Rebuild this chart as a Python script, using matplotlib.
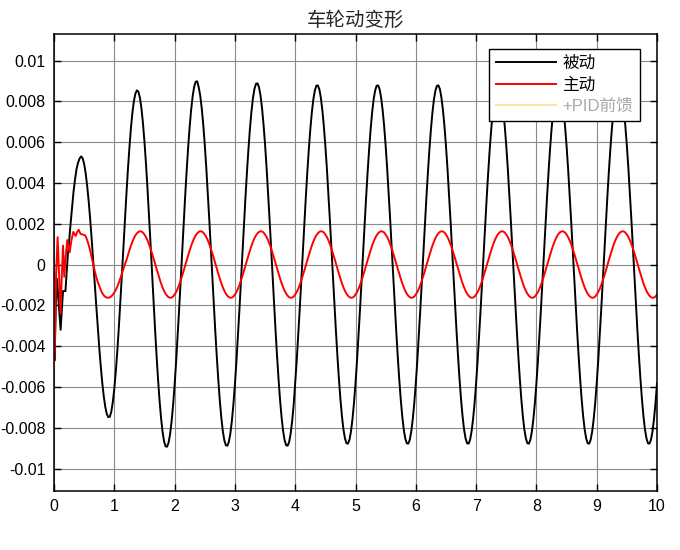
import numpy as np
import matplotlib
matplotlib.use("Agg")
import matplotlib.pyplot as plt

plt.rcParams['font.family'] = ['Liberation Sans', 'Noto Sans CJK SC', 'DejaVu Sans']

title_text = "车轮动变形"
series_names = ["被动", "主动", "+PID前馈"]

x_ticks = [0, 1, 2, 3, 4, 5, 6, 7, 8, 9, 10]
y_ticks = [-0.01, -0.008, -0.006, -0.004, -0.002, 0, 0.002, 0.004, 0.006, 0.008, 0.01]
y_tick_labels = ['-0.01', '-0.008', '-0.006', '-0.004', '-0.002', '0',
                 '0.002', '0.004', '0.006', '0.008', '0.01']

# Passive suspension: start-up samples, then a 0.025 s grid from 0.30 s to 10 s
passive_t_early = [0, 0.01, 0.03, 0.05, 0.08, 0.11, 0.13, 0.15, 0.19, 0.21, 0.23, 0.25, 0.275]
passive_early = [0, -0.0047, -0.0020, -0.0007, -0.0020, -0.0032, -0.0022, -0.0013,
                 -0.0013, -0.0004, 0.0005, 0.0011, 0.0020]
passive_regular = [
    # 0.300 - 0.975
    0.0028, 0.0036, 0.0042, 0.0047, 0.0050, 0.0052, 0.0053,
    0.00521, 0.00493, 0.00448, 0.00386, 0.00311, 0.00222, 0.00125, 0.00020, -0.00088,
    -0.00197, -0.00304, -0.00405, -0.00497, -0.00578, -0.00645, -0.00697, -0.00732, -0.00748,
    -0.00746, -0.00722, -0.00675,
    # 1.000 - 1.975
    -0.00609, -0.00525, -0.00424, -0.00310, -0.00186, -0.00055, 0.00079, 0.00212, 0.00340, 0.00461,
    0.00570, 0.00666, 0.00743, 0.00801, 0.00838, 0.00854, 0.00847, 0.00817, 0.00766, 0.00694,
    0.00603, 0.00496, 0.00375, 0.00244, 0.00107, -0.00035, -0.00176, -0.00312, -0.00441, -0.00560,
    -0.00665, -0.00751, -0.00819, -0.00866, -0.00891, -0.00893, -0.00873, -0.00832, -0.00770, -0.00689,
    # 2.000 - 2.975
    -0.00591, -0.00478, -0.00354, -0.00221, -0.00082, 0.00059, 0.00198, 0.00333, 0.00459, 0.00575,
    0.00676, 0.00760, 0.00826, 0.00872, 0.00896, 0.00898, 0.00869, 0.00828, 0.00766, 0.00686,
    0.00589, 0.00477, 0.00353, 0.00221, 0.00084, -0.00056, -0.00194, -0.00328, -0.00453, -0.00567,
    -0.00668, -0.00751, -0.00817, -0.00862, -0.00886, -0.00888, -0.00869, -0.00828, -0.00766, -0.00686,
    # 3.000 - 3.975
    -0.00589, -0.00477, -0.00353, -0.00221, -0.00084, 0.00056, 0.00194, 0.00328, 0.00453, 0.00567,
    0.00668, 0.00751, 0.00817, 0.00862, 0.00886, 0.00888, 0.00869, 0.00828, 0.00766, 0.00686,
    0.00589, 0.00477, 0.00353, 0.00221, 0.00084, -0.00056, -0.00194, -0.00328, -0.00453, -0.00567,
    -0.00668, -0.00751, -0.00817, -0.00862, -0.00886, -0.00888, -0.00869, -0.00828, -0.00766, -0.00686,
    # 4.000 - 4.975
    -0.00582, -0.00472, -0.00349, -0.00219, -0.00083, 0.00055, 0.00192, 0.00324, 0.00448, 0.00561,
    0.00660, 0.00743, 0.00808, 0.00852, 0.00876, 0.00878, 0.00859, 0.00818, 0.00757, 0.00678,
    0.00582, 0.00472, 0.00349, 0.00219, 0.00083, -0.00055, -0.00192, -0.00324, -0.00448, -0.00561,
    -0.00660, -0.00743, -0.00808, -0.00852, -0.00876, -0.00878, -0.00859, -0.00818, -0.00757, -0.00678,
    # 5.000 - 5.975
    -0.00582, -0.00472, -0.00349, -0.00219, -0.00083, 0.00055, 0.00192, 0.00324, 0.00448, 0.00561,
    0.00660, 0.00743, 0.00808, 0.00852, 0.00876, 0.00878, 0.00859, 0.00818, 0.00757, 0.00678,
    0.00582, 0.00472, 0.00349, 0.00219, 0.00083, -0.00055, -0.00192, -0.00324, -0.00448, -0.00561,
    -0.00660, -0.00743, -0.00808, -0.00852, -0.00876, -0.00878, -0.00859, -0.00818, -0.00757, -0.00678,
    # 6.000 - 6.975
    -0.00582, -0.00472, -0.00349, -0.00219, -0.00083, 0.00055, 0.00192, 0.00324, 0.00448, 0.00561,
    0.00660, 0.00743, 0.00808, 0.00852, 0.00876, 0.00878, 0.00859, 0.00818, 0.00757, 0.00678,
    0.00582, 0.00472, 0.00349, 0.00219, 0.00083, -0.00055, -0.00192, -0.00324, -0.00448, -0.00561,
    -0.00660, -0.00743, -0.00808, -0.00852, -0.00876, -0.00878, -0.00859, -0.00818, -0.00757, -0.00678,
    # 7.000 - 7.975
    -0.00582, -0.00472, -0.00349, -0.00219, -0.00083, 0.00055, 0.00192, 0.00324, 0.00448, 0.00561,
    0.00660, 0.00743, 0.00808, 0.00852, 0.00876, 0.00878, 0.00859, 0.00818, 0.00757, 0.00678,
    0.00582, 0.00472, 0.00349, 0.00219, 0.00083, -0.00055, -0.00192, -0.00324, -0.00448, -0.00561,
    -0.00660, -0.00743, -0.00808, -0.00852, -0.00876, -0.00878, -0.00859, -0.00818, -0.00757, -0.00678,
    # 8.000 - 8.975
    -0.00582, -0.00472, -0.00349, -0.00219, -0.00083, 0.00055, 0.00192, 0.00324, 0.00448, 0.00561,
    0.00660, 0.00743, 0.00808, 0.00852, 0.00876, 0.00878, 0.00859, 0.00818, 0.00757, 0.00678,
    0.00582, 0.00472, 0.00349, 0.00219, 0.00083, -0.00055, -0.00192, -0.00324, -0.00448, -0.00561,
    -0.00660, -0.00743, -0.00808, -0.00852, -0.00876, -0.00878, -0.00859, -0.00818, -0.00757, -0.00678,
    # 9.000 - 9.975
    -0.00582, -0.00472, -0.00349, -0.00219, -0.00083, 0.00055, 0.00192, 0.00324, 0.00448, 0.00561,
    0.00660, 0.00743, 0.00808, 0.00852, 0.00876, 0.00878, 0.00859, 0.00818, 0.00757, 0.00678,
    0.00582, 0.00472, 0.00349, 0.00219, 0.00083, -0.00055, -0.00192, -0.00324, -0.00448, -0.00561,
    -0.00660, -0.00743, -0.00808, -0.00852, -0.00876, -0.00878, -0.00859, -0.00818, -0.00757, -0.00678,
    # 10.000
    -0.00582,
]

# Active suspension: start-up samples, then a 0.025 s grid from 0.55 s to 10 s
active_t_early = [0, 0.01, 0.035, 0.06, 0.085, 0.11, 0.13, 0.15, 0.17, 0.195, 0.22,
                  0.24, 0.26, 0.29, 0.32, 0.34, 0.36, 0.385, 0.41, 0.44, 0.48, 0.52]
active_early = [0, -0.0047, -0.0005, 0.00134, -0.0006, -0.0024, -0.0005, 0.00093, -0.0006,
                0.0004, 0.0012, 0.0009, 0.0006, 0.0012, 0.0016, 0.0015, 0.0014, 0.0016,
                0.0017, 0.0015, 0.00147, 0.00142]
active_regular = [
    # 0.550 - 0.975
    0.0012, 0.00097, 0.00068, 0.00036, 0.00002, -0.00031, -0.0006, -0.00085, -0.00105, -0.00124,
    -0.0014, -0.00151, -0.00158, -0.00162, -0.00163, -0.00161, -0.00156, -0.00148,
    # 1.000 - 1.975
    -0.00137, -0.00124, -0.00108, -0.00089, -0.00068, -0.00045, -0.00022, 0.00000, 0.00020, 0.00045,
    0.00069, 0.00092, 0.00112, 0.00129, 0.00143, 0.00153, 0.00160, 0.00163, 0.00162, 0.00157,
    0.00147, 0.00135, 0.00119, 0.00100, 0.00079, 0.00055, 0.00031, 0.00005, -0.00020, -0.00045,
    -0.00069, -0.00092, -0.00112, -0.00129, -0.00143, -0.00153, -0.00160, -0.00163, -0.00162, -0.00157,
    # 2.000 - 2.975
    -0.00147, -0.00135, -0.00119, -0.00100, -0.00079, -0.00055, -0.00031, -0.00005, 0.00020, 0.00045,
    0.00069, 0.00092, 0.00112, 0.00129, 0.00143, 0.00153, 0.00160, 0.00163, 0.00162, 0.00157,
    0.00147, 0.00135, 0.00119, 0.00100, 0.00079, 0.00055, 0.00031, 0.00005, -0.00020, -0.00045,
    -0.00069, -0.00092, -0.00112, -0.00129, -0.00143, -0.00153, -0.00160, -0.00163, -0.00162, -0.00157,
    # 3.000 - 3.975
    -0.00147, -0.00135, -0.00119, -0.00100, -0.00079, -0.00055, -0.00031, -0.00005, 0.00020, 0.00045,
    0.00069, 0.00092, 0.00112, 0.00129, 0.00143, 0.00153, 0.00160, 0.00163, 0.00162, 0.00157,
    0.00147, 0.00135, 0.00119, 0.00100, 0.00079, 0.00055, 0.00031, 0.00005, -0.00020, -0.00045,
    -0.00069, -0.00092, -0.00112, -0.00129, -0.00143, -0.00153, -0.00160, -0.00163, -0.00162, -0.00157,
    # 4.000 - 4.975
    -0.00147, -0.00135, -0.00119, -0.00100, -0.00079, -0.00055, -0.00031, -0.00005, 0.00020, 0.00045,
    0.00069, 0.00092, 0.00112, 0.00129, 0.00143, 0.00153, 0.00160, 0.00163, 0.00162, 0.00157,
    0.00147, 0.00135, 0.00119, 0.00100, 0.00079, 0.00055, 0.00031, 0.00005, -0.00020, -0.00045,
    -0.00069, -0.00092, -0.00112, -0.00129, -0.00143, -0.00153, -0.00160, -0.00163, -0.00162, -0.00157,
    # 5.000 - 5.975
    -0.00147, -0.00135, -0.00119, -0.00100, -0.00079, -0.00055, -0.00031, -0.00005, 0.00020, 0.00045,
    0.00069, 0.00092, 0.00112, 0.00129, 0.00143, 0.00153, 0.00160, 0.00163, 0.00162, 0.00157,
    0.00147, 0.00135, 0.00119, 0.00100, 0.00079, 0.00055, 0.00031, 0.00005, -0.00020, -0.00045,
    -0.00069, -0.00092, -0.00112, -0.00129, -0.00143, -0.00153, -0.00160, -0.00163, -0.00162, -0.00157,
    # 6.000 - 6.975
    -0.00147, -0.00135, -0.00119, -0.00100, -0.00079, -0.00055, -0.00031, -0.00005, 0.00020, 0.00045,
    0.00069, 0.00092, 0.00112, 0.00129, 0.00143, 0.00153, 0.00160, 0.00163, 0.00162, 0.00157,
    0.00147, 0.00135, 0.00119, 0.00100, 0.00079, 0.00055, 0.00031, 0.00005, -0.00020, -0.00045,
    -0.00069, -0.00092, -0.00112, -0.00129, -0.00143, -0.00153, -0.00160, -0.00163, -0.00162, -0.00157,
    # 7.000 - 7.975
    -0.00147, -0.00135, -0.00119, -0.00100, -0.00079, -0.00055, -0.00031, -0.00005, 0.00020, 0.00045,
    0.00069, 0.00092, 0.00112, 0.00129, 0.00143, 0.00153, 0.00160, 0.00163, 0.00162, 0.00157,
    0.00147, 0.00135, 0.00119, 0.00100, 0.00079, 0.00055, 0.00031, 0.00005, -0.00020, -0.00045,
    -0.00069, -0.00092, -0.00112, -0.00129, -0.00143, -0.00153, -0.00160, -0.00163, -0.00162, -0.00157,
    # 8.000 - 8.975
    -0.00147, -0.00135, -0.00119, -0.00100, -0.00079, -0.00055, -0.00031, -0.00005, 0.00020, 0.00045,
    0.00069, 0.00092, 0.00112, 0.00129, 0.00143, 0.00153, 0.00160, 0.00163, 0.00162, 0.00157,
    0.00147, 0.00135, 0.00119, 0.00100, 0.00079, 0.00055, 0.00031, 0.00005, -0.00020, -0.00045,
    -0.00069, -0.00092, -0.00112, -0.00129, -0.00143, -0.00153, -0.00160, -0.00163, -0.00162, -0.00157,
    # 9.000 - 9.975
    -0.00147, -0.00135, -0.00119, -0.00100, -0.00079, -0.00055, -0.00031, -0.00005, 0.00020, 0.00045,
    0.00069, 0.00092, 0.00112, 0.00129, 0.00143, 0.00153, 0.00160, 0.00163, 0.00162, 0.00157,
    0.00147, 0.00135, 0.00119, 0.00100, 0.00079, 0.00055, 0.00031, 0.00005, -0.00020, -0.00045,
    -0.00069, -0.00092, -0.00112, -0.00129, -0.00143, -0.00153, -0.00160, -0.00163, -0.00162, -0.00157,
    # 10.000
    -0.00147,
]

# Feedforward series has no samples inside the plotted range
pid_t = []
pid_values = []

passive_t = np.concatenate([passive_t_early,
                            0.30 + 0.025 * np.arange(len(passive_regular))])
passive = np.concatenate([passive_early, passive_regular])
active_t = np.concatenate([active_t_early,
                           0.55 + 0.025 * np.arange(len(active_regular))])
active = np.concatenate([active_early, active_regular])

fig = plt.figure(figsize=(6.8, 5.5), dpi=100)
ax = fig.add_axes([0.0794, 0.1073, 0.8868, 0.8309])

ax.plot(passive_t, passive, color='black', lw=1.4, label=series_names[0])
ax.plot(active_t, active, color='red', lw=1.4, label=series_names[1])
ax.plot(pid_t, pid_values, color='#ffe2a6', lw=1.4, label=series_names[2])

ax.set_xlim(0, 10)
ax.set_ylim(-0.0111, 0.0113)
ax.set_xticks(x_ticks)
ax.set_xticklabels([str(v) for v in x_ticks])
ax.set_yticks(y_ticks)
ax.set_yticklabels(y_tick_labels)
ax.tick_params(direction='in', length=5, width=1, top=True, right=True,
               labelsize=11.5, pad=6)
ax.grid(True, color='#8a8a8a', lw=0.8)
for s in ax.spines.values():
    s.set_linewidth(1.1)

ax.set_title(title_text, fontsize=14, pad=6, color='#262626',
             family=['Noto Sans CJK SC', 'DejaVu Sans'])

leg = ax.legend(loc='upper right', bbox_to_anchor=(0.9718, 0.9672),
                prop={'family': ['Liberation Sans', 'Noto Sans CJK SC'], 'size': 12},
                frameon=True, fancybox=False, framealpha=1, edgecolor='black',
                handlelength=3.6, handletextpad=0.4, borderpad=0.4,
                labelspacing=0.38, borderaxespad=0)
leg.get_frame().set_linewidth(1.0)
leg.set_zorder(5)
leg.get_texts()[2].set_color('#a8a8a8')

fig.savefig('out.png', dpi=100)
